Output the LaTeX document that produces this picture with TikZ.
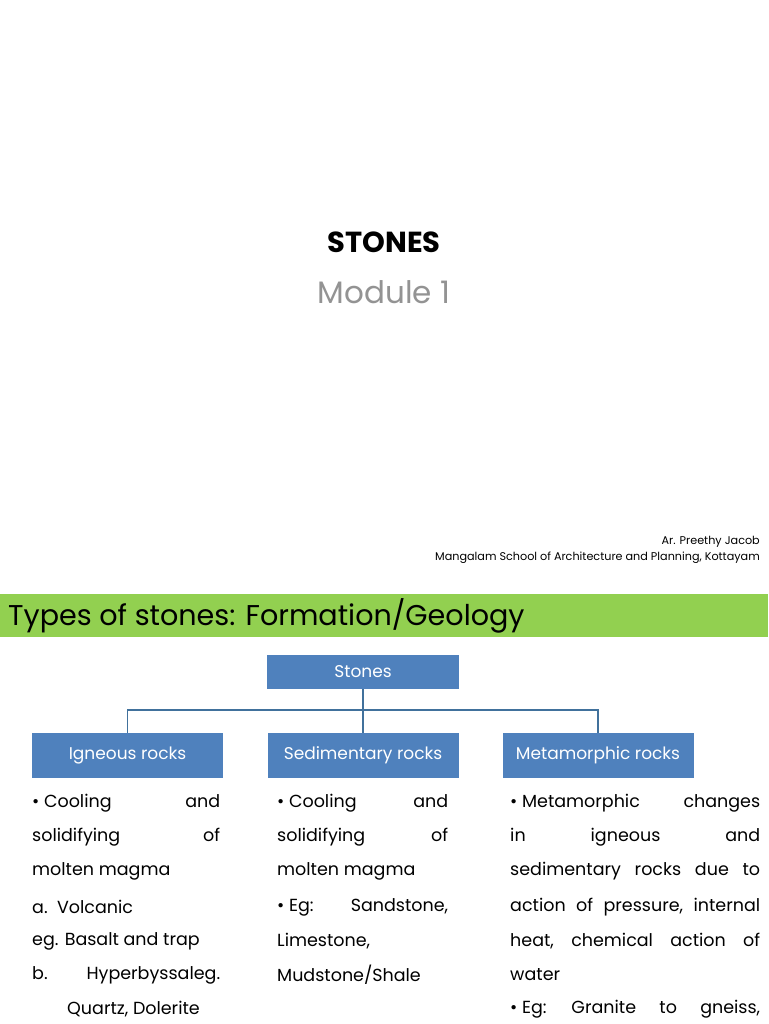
\documentclass[tikz,border=0pt]{standalone}
\usepackage{fontspec}
\setmainfont{Poppins}
\definecolor{bx}{HTML}{4F81BD}
\definecolor{ln}{HTML}{41719C}
\definecolor{gr}{HTML}{92D050}
\begin{document}
\begin{tikzpicture}[x=1pt,y=-1pt,
  blue box/.style={fill=bx,text=white,minimum height=45pt,minimum width=191pt,inner sep=0,font=\fontsize{17}{20}\selectfont},
  body/.style={anchor=west,inner sep=0,font=\fontsize{17.5}{20}\selectfont,align=justify},
  conn/.style={draw=ln,line width=1.3pt}]
\useasboundingbox (0,0) rectangle (768,1024);
\fill[white] (0,0) rectangle (768,1024);
\node[font=\bfseries\fontsize{29}{32}\selectfont] (t) at (384,242) {STONES};
\node[font=\fontsize{31}{34}\selectfont,text=gray!85] (m) at (384,292) {Module 1};
\node[anchor=east,inner sep=0,font=\fontsize{11.2}{13}\selectfont] (a1) at (760,542) {Ar. Preethy Jacob};
\node[anchor=east,inner sep=0,font=\fontsize{11.2}{13}\selectfont] (a2) at (760,558) {Mangalam School of Architecture and Planning, Kottayam};
\fill[gr] (0,594) rectangle (768,637);
\node[anchor=west,inner sep=0,font=\fontsize{28.6}{32}\selectfont] (h) at (8,616) {Types of stones: Formation/Geology};
\node[blue box,minimum height=34pt,minimum width=192pt] (s) at (363,672) {Stones};
\node[blue box] (ig) at (127.5,755.5) {Igneous rocks};
\node[blue box] (se) at (363,755.5) {Sedimentary rocks};
\node[blue box] (me) at (598,755.5) {Metamorphic rocks};
\coordinate (j) at (363,710);
\draw[conn] (s.south) -- (se.north);
\draw[conn] (ig.north) |- (j) -| (me.north);
\newcommand\tl[5]{\node[body,text width=#3pt] (#5) at (#1,#2) {#4};}
% column 1
\tl{32}{803}{188}{• Cooling \hfill and}{c1a}
\tl{32}{837}{188}{solidifying \hfill of}{c1b}
\tl{32}{871}{188}{molten magma}{c1c}
\tl{32}{907}{188}{a.\ \ Volcanic}{c1d}
\tl{32}{941}{188}{eg. Basalt and trap}{c1e}
\tl{32}{975}{188}{b. \hfill Hyperbyssaleg.}{c1f}
\tl{67}{1009}{160}{Quartz, Dolerite}{c1g}
% column 2
\tl{277}{803}{171}{• Cooling \hfill and}{c2a}
\tl{277}{837}{171}{solidifying \hfill of}{c2b}
\tl{277}{871}{171}{molten magma}{c2c}
\tl{277}{907}{171}{• Eg: \hfill Sandstone,}{c2d}
\tl{277}{941}{171}{Limestone,}{c2e}
\tl{277}{975}{171}{Mudstone/Shale}{c2f}
% column 3
\tl{510}{803}{250}{• Metamorphic \hfill changes}{c3a}
\tl{510}{837}{250}{in \hfill igneous \hfill and}{c3b}
\tl{510}{871}{250}{sedimentary \hfill rocks \hfill due \hfill to}{c3c}
\tl{510}{907}{250}{action \hfill of \hfill pressure, \hfill internal}{c3d}
\tl{510}{941}{250}{heat, \hfill chemical \hfill action \hfill of}{c3e}
\tl{510}{975}{250}{water}{c3f}
\tl{510}{1009}{250}{• Eg: \hfill Granite \hfill to \hfill gneiss,}{c3g}
\end{tikzpicture}
\end{document}
